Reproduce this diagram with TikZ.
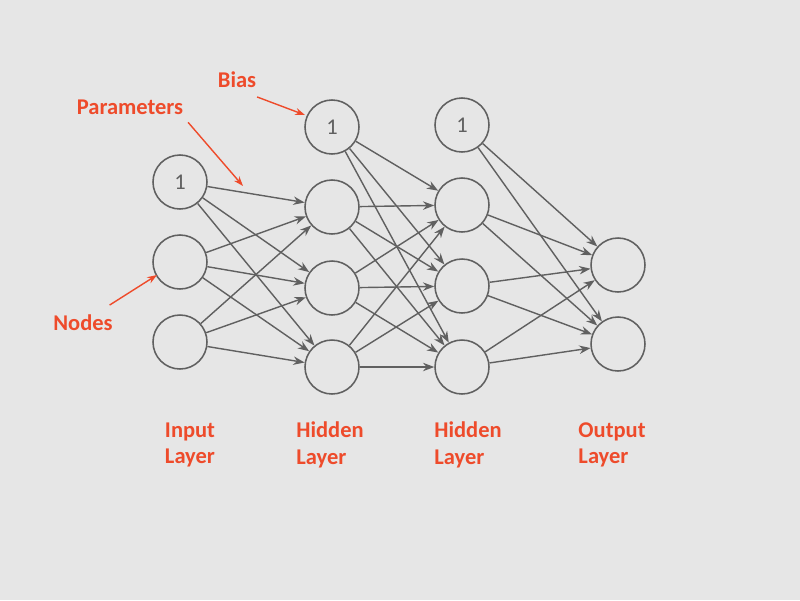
\documentclass[tikz,border=0pt]{standalone}
\usepackage{fontspec}
\setmainfont{Carlito}
\usetikzlibrary{arrows.meta, positioning}
\definecolor{bgGrey}{HTML}{E6E6E6}
\definecolor{lineGrey}{HTML}{606060}
\definecolor{noteRed}{HTML}{EE4B2B}

\begin{document}
\begin{tikzpicture}[
    x=0.025cm, y=-0.025cm,
    unit/.style={draw=lineGrey, circle, line width=1.1pt, minimum size=1.35cm, inner sep=0pt, font=\fontsize{16}{19}\selectfont, text=lineGrey},
    link/.style={-{Stealth[length=8pt,width=6pt]}, draw=lineGrey, line width=1pt},
    note/.style={text=noteRed, font=\fontsize{16}{19}\selectfont\bfseries, align=left},
    pointer/.style={-{Stealth[length=7pt,width=5pt]}, draw=noteRed, line width=1pt}
]

% Hintergrund
\fill[bgGrey] (0,0) rectangle (800,600);

% Eingabeschicht
\node[unit] (in1) at (180,182) {1};
\node[unit] (in2) at (180,262) {};
\node[unit] (in3) at (180,342) {};

% Erste versteckte Schicht
\node[unit] (ha0) at (332,127) {1};
\node[unit] (ha1) at (332,207) {};
\node[unit] (ha2) at (332,288) {};
\node[unit] (ha3) at (332,367) {};

% Zweite versteckte Schicht
\node[unit] (hb0) at (462,125) {1};
\node[unit] (hb1) at (462,205) {};
\node[unit] (hb2) at (462,286) {};
\node[unit] (hb3) at (462,367) {};

% Ausgabeschicht
\node[unit] (out1) at (618,265) {};
\node[unit] (out2) at (618,344) {};

% Verbindungen
\foreach \i in {1,2,3}
  \foreach \j in {1,2,3}
    \draw[link] (in\i) -- (ha\j);
\foreach \i in {0,1,2,3}
  \foreach \j in {1,2,3}
    \draw[link] (ha\i) -- (hb\j);
\foreach \i in {0,1,2,3}
  \foreach \j in {1,2}
    \draw[link] (hb\i) -- (out\j);

% Beschriftungen
\node[note] (bias) at (237,80) {Bias};
\node[note] (params) at (130,107) {Parameters};
\node[note] (nodes) at (83,323) {Nodes};
\coordinate (biasTip) at (305,115);
\coordinate (paramTip) at (243,186);
\coordinate (nodeTip) at (157,275);
\draw[pointer] (bias.south east) ++(-4,4) -- (biasTip);
\draw[pointer] (params.south east) ++(0,3) -- (paramTip);
\draw[pointer] (nodes.north east) ++(-8,-5) -- (nodeTip);

\node[note] (lin) at (190,445) {Input\\Layer};
\node[note] (lh1) at (330,445) {Hidden\\Layer};
\node[note] (lh2) at (468,445) {Hidden\\Layer};
\node[note] (lout) at (612,445) {Output\\Layer};

\end{tikzpicture}
\end{document}
